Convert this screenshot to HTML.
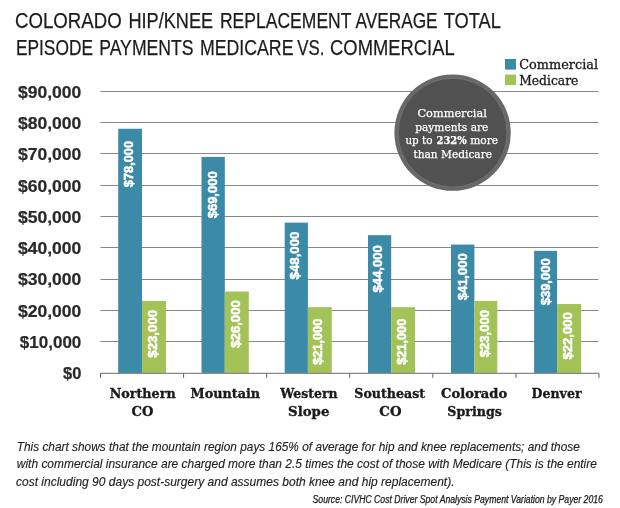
<!DOCTYPE html>
<html lang="en"><head><meta charset="utf-8"><title>Colorado Hip/Knee Replacement Payments</title>
<style>html,body{margin:0;padding:0;background:#fff}svg{display:block}.t{font-family:"Liberation Sans",sans-serif;fill:#1c1c1c;stroke:#1c1c1c;stroke-width:0.25px}.y{font-family:"Liberation Sans",sans-serif;font-weight:bold;fill:#2a2a2a;stroke:#2a2a2a;stroke-width:0.2px}.b{font-family:"Liberation Sans",sans-serif;font-weight:bold;fill:#fff;stroke:#fff;stroke-width:0.55px}.c{font-family:"DejaVu Serif",serif;font-weight:bold;fill:#1a1a1a;stroke:#1a1a1a;stroke-width:0.35px}.l{font-family:"DejaVu Serif",serif;fill:#1a1a1a;stroke:#1a1a1a;stroke-width:0.3px}.k{font-family:"DejaVu Serif",serif;fill:#fff;stroke:#fff;stroke-width:0.25px}.f{font-family:"Liberation Sans",sans-serif;font-style:italic;fill:#222;stroke:#222;stroke-width:0.15px}</style></head><body>
<svg width="620" height="508" viewBox="0 0 620 508">
<rect width="620" height="508" fill="#fff"/>
<text class="t" x="15.09" y="27.6" font-size="22.9" textLength="106.57" lengthAdjust="spacingAndGlyphs">COLORADO</text>
<text class="t" x="128.41" y="27.6" font-size="22.9" textLength="84.71" lengthAdjust="spacingAndGlyphs">HIP/KNEE</text>
<text class="t" x="219.93" y="27.6" font-size="22.9" textLength="131.55" lengthAdjust="spacingAndGlyphs">REPLACEMENT</text>
<text class="t" x="355.40" y="27.6" font-size="22.9" textLength="82.20" lengthAdjust="spacingAndGlyphs">AVERAGE</text>
<text class="t" x="443.70" y="27.6" font-size="22.9" textLength="57.18" lengthAdjust="spacingAndGlyphs">TOTAL</text>
<text class="t" x="15.94" y="55" font-size="22.9" textLength="77.06" lengthAdjust="spacingAndGlyphs">EPISODE</text>
<text class="t" x="99.23" y="55" font-size="22.9" textLength="94.38" lengthAdjust="spacingAndGlyphs">PAYMENTS</text>
<text class="t" x="199.93" y="55" font-size="22.9" textLength="93.58" lengthAdjust="spacingAndGlyphs">MEDICARE</text>
<text class="t" x="297.30" y="55" font-size="22.9" textLength="27.20" lengthAdjust="spacingAndGlyphs">VS.</text>
<text class="t" x="330.10" y="55" font-size="22.9" textLength="124.59" lengthAdjust="spacingAndGlyphs">COMMERCIAL</text>
<rect x="100.5" y="341" width="498" height="1" fill="#878787"/>
<rect x="100.5" y="310" width="498" height="1" fill="#878787"/>
<rect x="100.5" y="279" width="498" height="1" fill="#878787"/>
<rect x="100.5" y="247" width="498" height="1" fill="#878787"/>
<rect x="100.5" y="216" width="498" height="1" fill="#878787"/>
<rect x="100.5" y="185" width="498" height="1" fill="#878787"/>
<rect x="100.5" y="153" width="498" height="1" fill="#878787"/>
<rect x="100.5" y="122" width="498" height="1" fill="#878787"/>
<rect x="100.5" y="91" width="498" height="1" fill="#878787"/>
<text class="y" x="63.00" y="379.30" font-size="15.6" textLength="18.35" lengthAdjust="spacingAndGlyphs">$0</text>
<text class="y" x="19.80" y="348.00" font-size="15.6" textLength="61.54" lengthAdjust="spacingAndGlyphs">$10,000</text>
<text class="y" x="17.90" y="316.70" font-size="15.6" textLength="63.43" lengthAdjust="spacingAndGlyphs">$20,000</text>
<text class="y" x="17.90" y="285.40" font-size="15.6" textLength="63.43" lengthAdjust="spacingAndGlyphs">$30,000</text>
<text class="y" x="17.90" y="254.10" font-size="15.6" textLength="63.43" lengthAdjust="spacingAndGlyphs">$40,000</text>
<text class="y" x="17.90" y="222.80" font-size="15.6" textLength="63.43" lengthAdjust="spacingAndGlyphs">$50,000</text>
<text class="y" x="17.90" y="191.50" font-size="15.6" textLength="63.43" lengthAdjust="spacingAndGlyphs">$60,000</text>
<text class="y" x="17.90" y="160.20" font-size="15.6" textLength="63.43" lengthAdjust="spacingAndGlyphs">$70,000</text>
<text class="y" x="17.90" y="128.90" font-size="15.6" textLength="63.43" lengthAdjust="spacingAndGlyphs">$80,000</text>
<text class="y" x="17.90" y="97.60" font-size="15.6" textLength="63.43" lengthAdjust="spacingAndGlyphs">$90,000</text>
<rect x="118.2" y="128.76" width="23.8" height="244.14" fill="#3b8aa7"/>
<rect x="142" y="300.91" width="24.0" height="71.99" fill="#a3c358"/>
<rect x="201.5" y="156.93" width="23.3" height="215.97" fill="#3b8aa7"/>
<rect x="224.8" y="291.52" width="24.0" height="81.38" fill="#a3c358"/>
<rect x="284.7" y="222.66" width="23.2" height="150.24" fill="#3b8aa7"/>
<rect x="307.9" y="307.17" width="23.9" height="65.73" fill="#a3c358"/>
<rect x="368" y="235.18" width="23.2" height="137.72" fill="#3b8aa7"/>
<rect x="391.2" y="307.17" width="23.8" height="65.73" fill="#a3c358"/>
<rect x="451" y="244.57" width="23.4" height="128.33" fill="#3b8aa7"/>
<rect x="474.4" y="300.91" width="22.9" height="71.99" fill="#a3c358"/>
<rect x="534.1" y="250.83" width="23.0" height="122.07" fill="#3b8aa7"/>
<rect x="557.1" y="304.04" width="24.1" height="68.86" fill="#a3c358"/>
<rect x="100" y="372.8" width="499" height="1" fill="#6c6c6c"/>
<rect x="100.00" y="373.5" width="1" height="4.3" fill="#606060"/>
<rect x="183.08" y="373.5" width="1" height="4.3" fill="#606060"/>
<rect x="266.16" y="373.5" width="1" height="4.3" fill="#606060"/>
<rect x="349.24" y="373.5" width="1" height="4.3" fill="#606060"/>
<rect x="432.32" y="373.5" width="1" height="4.3" fill="#606060"/>
<rect x="515.40" y="373.5" width="1" height="4.3" fill="#606060"/>
<rect x="598.48" y="373.5" width="1" height="4.3" fill="#606060"/>
<text class="b" font-size="12.8" transform="translate(133.3,186.9) rotate(-90)" x="-0.30" textLength="46.22" lengthAdjust="spacingAndGlyphs">$78,000</text>
<text class="b" font-size="12.8" transform="translate(156.5,357.4) rotate(-90)" x="-0.30" textLength="47.82" lengthAdjust="spacingAndGlyphs">$23,000</text>
<text class="b" font-size="12.8" transform="translate(216.5,218.0) rotate(-90)" x="-0.30" textLength="46.92" lengthAdjust="spacingAndGlyphs">$69,000</text>
<text class="b" font-size="12.8" transform="translate(240.0,347.4) rotate(-90)" x="-0.30" textLength="47.42" lengthAdjust="spacingAndGlyphs">$26,000</text>
<text class="b" font-size="12.8" transform="translate(299.0,279.1) rotate(-90)" x="-0.30" textLength="47.72" lengthAdjust="spacingAndGlyphs">$48,000</text>
<text class="b" font-size="12.8" transform="translate(322.0,364.5) rotate(-90)" x="-0.30" textLength="46.02" lengthAdjust="spacingAndGlyphs">$21,000</text>
<text class="b" font-size="12.8" transform="translate(382.4,292.3) rotate(-90)" x="-0.30" textLength="47.42" lengthAdjust="spacingAndGlyphs">$44,000</text>
<text class="b" font-size="12.8" transform="translate(405.6,364.5) rotate(-90)" x="-0.30" textLength="46.02" lengthAdjust="spacingAndGlyphs">$21,000</text>
<text class="b" font-size="12.8" transform="translate(466.7,300.0) rotate(-90)" x="-0.30" textLength="46.92" lengthAdjust="spacingAndGlyphs">$41,000</text>
<text class="b" font-size="12.8" transform="translate(488.5,357.0) rotate(-90)" x="-0.30" textLength="47.42" lengthAdjust="spacingAndGlyphs">$23,000</text>
<text class="b" font-size="12.8" transform="translate(549.9,305.0) rotate(-90)" x="-0.30" textLength="46.92" lengthAdjust="spacingAndGlyphs">$39,000</text>
<text class="b" font-size="12.8" transform="translate(572.3,359.2) rotate(-90)" x="-0.30" textLength="47.32" lengthAdjust="spacingAndGlyphs">$22,000</text>
<rect x="505" y="59" width="11" height="10.6" fill="#3b8aa7"/>
<rect x="505" y="74.5" width="11" height="10.6" fill="#a3c358"/>
<text class="l" x="519.20" y="68.8" font-size="12.2" textLength="78.89" lengthAdjust="spacingAndGlyphs">Commercial</text>
<text class="l" x="519.20" y="84.6" font-size="12.2" textLength="59.22" lengthAdjust="spacingAndGlyphs">Medicare</text>
<circle cx="452.6" cy="132.65" r="58.2" fill="#686868"/>
<circle cx="452.6" cy="132.65" r="54.5" fill="#515151" stroke="#7c7c7c" stroke-width="0.7"/>
<text class="k" x="417.40" y="117.2" font-size="11.5" textLength="69.48" lengthAdjust="spacingAndGlyphs">Commercial</text>
<text class="k" x="415.20" y="130.5" font-size="11.5" textLength="73.22" lengthAdjust="spacingAndGlyphs">payments are</text>
<text class="k" x="405.40" y="143.8" font-size="11.5" textLength="27.03" lengthAdjust="spacingAndGlyphs">up to</text>
<text class="k" x="436.50" y="143.8" font-size="11.5" textLength="30.24" lengthAdjust="spacingAndGlyphs" font-weight="bold">232%</text>
<text class="k" x="470.20" y="143.8" font-size="11.5" textLength="28.02" lengthAdjust="spacingAndGlyphs">more</text>
<text class="k" x="413.40" y="157.5" font-size="11.5" textLength="78.62" lengthAdjust="spacingAndGlyphs">than Medicare</text>
<text class="c" x="109.70" y="397.7" font-size="13.3" textLength="65.98" lengthAdjust="spacingAndGlyphs">Northern</text>
<text class="c" x="131.50" y="415.9" font-size="13.3" textLength="21.89" lengthAdjust="spacingAndGlyphs">CO</text>
<text class="c" x="190.60" y="397.7" font-size="13.3" textLength="69.48" lengthAdjust="spacingAndGlyphs">Mountain</text>
<text class="c" x="280.24" y="397.7" font-size="13.3" textLength="57.35" lengthAdjust="spacingAndGlyphs">Western</text>
<text class="c" x="288.10" y="415.9" font-size="13.3" textLength="41.26" lengthAdjust="spacingAndGlyphs">Slope</text>
<text class="c" x="354.30" y="397.7" font-size="13.3" textLength="70.89" lengthAdjust="spacingAndGlyphs">Southeast</text>
<text class="c" x="379.30" y="415.9" font-size="13.3" textLength="22.18" lengthAdjust="spacingAndGlyphs">CO</text>
<text class="c" x="441.10" y="397.7" font-size="13.3" textLength="66.17" lengthAdjust="spacingAndGlyphs">Colorado</text>
<text class="c" x="447.30" y="415.9" font-size="13.3" textLength="54.56" lengthAdjust="spacingAndGlyphs">Springs</text>
<text class="c" x="531.50" y="397.7" font-size="13.3" textLength="50.06" lengthAdjust="spacingAndGlyphs">Denver</text>
<text class="f" x="16.73" y="450.7" font-size="13.6" textLength="563.09" lengthAdjust="spacingAndGlyphs">This chart shows that the mountain region pays 165% of average for hip and knee replacements; and those</text>
<text class="f" x="16.80" y="468.3" font-size="13.6" textLength="580.11" lengthAdjust="spacingAndGlyphs">with commercial insurance are charged more than 2.5 times the cost of those with Medicare (This is the entire</text>
<text class="f" x="16.00" y="485.9" font-size="13.6" textLength="438.49" lengthAdjust="spacingAndGlyphs">cost including 90 days post-surgery and assumes both knee and hip replacement).</text>
<text class="f" x="312.60" y="503.1" font-size="10" textLength="290.22" lengthAdjust="spacingAndGlyphs" style="fill:#1a1a1a;stroke:#1a1a1a;stroke-width:0.25px">Source: CIVHC Cost Driver Spot Analysis Payment Variation by Payer 2016</text>
</svg></body></html>
